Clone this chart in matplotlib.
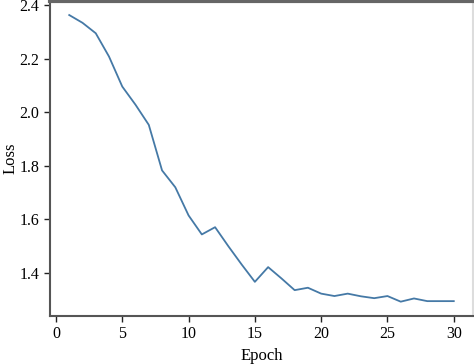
import matplotlib.pyplot as plt

# Training loss per epoch
epochs = list(range(1, 31))
loss = [2.363, 2.334, 2.295, 2.208, 2.096, 2.028, 1.953, 1.783, 1.720, 1.615,
        1.544, 1.571, 1.500, 1.432, 1.367, 1.422, 1.380, 1.336, 1.345, 1.323,
        1.314, 1.323, 1.313, 1.306, 1.314, 1.293, 1.305, 1.295, 1.295, 1.295]

plt.rcParams['font.family'] = ['Liberation Serif', 'DejaVu Serif']

fig, ax = plt.subplots(figsize=(4.74, 3.64), dpi=100)
fig.subplots_adjust(left=50/474, right=473/474, top=1-0.7/364, bottom=1-316/364)

ax.plot(epochs, loss, color='#4579a6', linewidth=1.3)

ax.set_xticks([0, 5, 10, 15, 20, 25, 30])
ax.set_yticks([1.4, 1.6, 1.8, 2.0, 2.2, 2.4])
ax.set_xlabel('Epoch', fontsize=12, labelpad=4)
ax.set_ylabel('Loss', fontsize=12)
ax.yaxis.set_label_coords(-0.074, 0.5)
ax.tick_params(labelsize=11.5, length=4, width=1, color='#222222')

for side in ['left', 'bottom']:
    ax.spines[side].set_color('#555555')
    ax.spines[side].set_linewidth(1.5)
ax.spines['top'].set_color('#666666')
ax.spines['top'].set_linewidth(3)
ax.spines['right'].set_color('#dddddd')
ax.spines['right'].set_linewidth(1.5)

fig.savefig('out.png', dpi=100)
